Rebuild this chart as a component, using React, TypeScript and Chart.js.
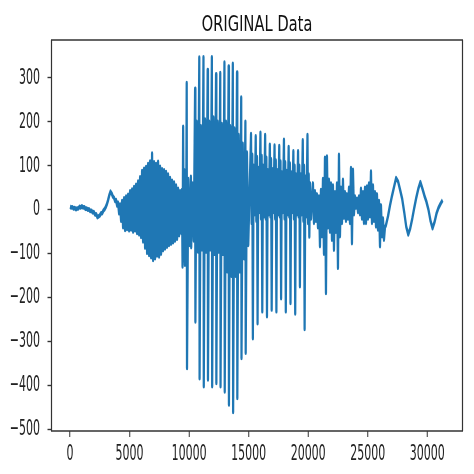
import React, { useEffect, useRef } from 'react';
import { Chart, registerables } from 'chart.js';

Chart.register(...registerables);

const titleText = 'ORIGINAL Data';
const xTickValues = [0, 5000, 10000, 15000, 20000, 25000, 30000];
const yTickValues = [-500, -400, -300, -200, -100, 0, 100, 200, 300];

// quiet lead-in (samples 0..3600, one reading every 100 samples)
const quietStart = 0;
const quietStep = 100;
const quietValues = [7, 5, 6, 3, 4, 1, 3, 3, 7, 5, 8, 5, 6, 2, 3, 0, 1, -3, -2, -6, -5, -11, -10, -17, -15, -13, -8, -8, -2, 1, 6, 13, 22, 33, 41, 37, 30];

// first noisy burst (samples 3700..9328)
const burstStart = 3700;
const burstStep = 84;
const burstValues = [
  27, 20, 22, 10, 16, -8, 12, -25, 20, -40,
  26, -46, 30, -44, 34, -47, 42, -45, 46, -50,
  52, -47, 57, -53, 64, -56, 74, -62, 88, -72,
  93, -86, 97, -98, 104, -103, 110, -108, 128, -114,
  108, -110, 104, -104, 109, -106, 98, -100, 92, -92,
  90, -88, 86, -84, 80, -80, 72, -77, 66, -74,
  62, -70, 55, -66, 48, -58, 42, -52,
];

// lead-in to the large spikes (samples 9400..9750)
const preStart = 9400;
const preStep = 50;
const preValues = [45, -129, 189, -115, 90, -125, 60, -70];

// large spikes, part A: one spike per 352 samples from sample 9800
const spikeAStart = 9800;
const spikeACycle = 352;
const spikeAOffsets = [0, 25, 130, 240];
const spikeATops = [288, 75, 275, 346, 347, 318, 347, 308, 311, 335, 326, 332, 312, 255, 200];
const spikeABottoms = [-360, -85, -254, -383, -401, -386, -401, -394, -401, -413, -443, -460, -428, -337, -325];
const spikeACoreHigh = [70, 60, 200, 190, 205, 200, 210, 200, 195, 200, 190, 185, 170, 150, 130];
const spikeACoreLow = [-80, -70, -95, -90, -95, -90, -100, -95, -100, -140, -150, -150, -140, -110, -80];

// large spikes, part B: one spike per 395 samples from sample 15200
const spikeBStart = 15200;
const spikeBCycle = 395;
const spikeBOffsets = [0, 50, 105, 155, 215, 300];
const spikeBTops = [172, 167, 175, 170, 148, 146, 145, 159, 143, 133, 133, 158, 170];
const spikeBCoreLowA = [-30, -25, -20, -20, -15, -20, -15, -20, -15, -20, -15, -25, -30];
const spikeBCoreHighA = [125, 120, 122, 118, 115, 112, 110, 108, 105, 100, 100, 100, 80];
const spikeBBottoms = [-292, -258, -231, -242, -227, -231, -201, -231, -212, -236, -174, -271, -61];
const spikeBCoreHighB = [100, 95, 100, 90, 92, 90, 85, 88, 85, 80, 80, 75, 60];
const spikeBCoreLowB = [-10, -5, -15, -10, -5, -10, -5, -10, -5, -10, -10, -15, -20];

// decaying noisy tail (samples 20400..26448)
const tailStart = 20400;
const tailStep = 84;
const tailValues = [
  60, -30, 42, -25, 35, -40, 30, -83, 45, -60,
  70, -100, 118, -189, 121, -40, 68, -50, 60, -68,
  55, -91, 40, -50, 60, -132, 125, -60, 50, -30,
  68, -18, 40, -25, 35, -20, 50, -30, 95, -76,
  91, -10, 30, 5, 25, -5, 30, -10, 48, -20,
  40, -30, 50, -30, 53, -20, 60, -15, 87, -30,
  55, -25, 40, -38, 35, -45, 20, -83, 10, -60,
  -20, -68, -40,
];

// slow oscillation at the end (samples 26530..31290)
const waveStart = 26530;
const waveStep = 170;
const waveValues = [-35, -15, 10, 32, 52, 72, 64, 45, 25, -5, -38, -56, -42, -20, 5, 28, 48, 63, 48, 32, 18, 0, -25, -42, -28, -8, 5, 14, 22];

type Pt = { x: number; y: number };

function addRun(out: Pt[], start: number, step: number, values: number[]) {
  values.forEach((v, i) => out.push({ x: start + i * step, y: v }));
}

function addCycles(out: Pt[], start: number, cycle: number, offsets: number[], columns: number[][]) {
  const n = columns[0].length;
  for (let c = 0; c < n; c++) {
    for (let j = 0; j < offsets.length; j++) {
      out.push({ x: start + c * cycle + offsets[j], y: columns[j][c] });
    }
  }
}

function buildPoints(): Pt[] {
  const pts: Pt[] = [];
  addRun(pts, quietStart, quietStep, quietValues);
  addRun(pts, burstStart, burstStep, burstValues);
  addRun(pts, preStart, preStep, preValues);
  addCycles(pts, spikeAStart, spikeACycle, spikeAOffsets, [spikeATops, spikeABottoms, spikeACoreHigh, spikeACoreLow]);
  addCycles(pts, spikeBStart, spikeBCycle, spikeBOffsets, [spikeBTops, spikeBCoreLowA, spikeBCoreHighA, spikeBBottoms, spikeBCoreHighB, spikeBCoreLowB]);
  addRun(pts, tailStart, tailStep, tailValues);
  addRun(pts, waveStart, waveStep, waveValues);
  return pts;
}

const FONT = '"DejaVu Sans", "Liberation Sans", sans-serif';

const framePlugin = {
  id: 'mplFrame',
  afterDraw(chart: any) {
    const { ctx, chartArea } = chart;
    const { left, right, top, bottom } = chartArea;
    ctx.save();
    ctx.strokeStyle = '#333333';
    ctx.lineWidth = 1.5;
    ctx.beginPath();
    ctx.moveTo(left - 1, top);
    ctx.lineTo(right + 1, top);
    ctx.moveTo(left - 1, bottom);
    ctx.lineTo(right + 1, bottom);
    ctx.stroke();
    ctx.lineWidth = 2.4;
    ctx.beginPath();
    ctx.moveTo(left, top);
    ctx.lineTo(left, bottom);
    ctx.moveTo(right, top);
    ctx.lineTo(right, bottom);
    ctx.stroke();
    ctx.restore();
  },
};

const titlePlugin = {
  id: 'mplTitle',
  afterDraw(chart: any) {
    const { ctx, chartArea } = chart;
    ctx.save();
    ctx.fillStyle = '#111111';
    ctx.font = `21px ${FONT}`;
    ctx.textAlign = 'center';
    ctx.textBaseline = 'alphabetic';
    ctx.translate((chartArea.left + chartArea.right) / 2, 31);
    ctx.scale(1.4, 1);
    ctx.fillText(titleText, 0, 0);
    ctx.restore();
  },
};

export default function App() {
  const ref = useRef<HTMLCanvasElement>(null);

  useEffect(() => {
    const canvas = ref.current;
    if (!canvas) return;
    const chart = new Chart(canvas, {
      type: 'line',
      data: {
        datasets: [
          {
            data: buildPoints(),
            borderColor: '#1f77b4',
            borderWidth: 4.5,
            pointRadius: 0,
            borderJoinStyle: 'round',
            borderCapStyle: 'butt',
            tension: 0,
            fill: false,
          },
        ],
      },
      options: {
        responsive: false,
        animation: false,
        devicePixelRatio: 1,
        parsing: false,
        events: [],
        layout: { padding: { left: 0, right: 23, top: 40, bottom: 0 } },
        plugins: {
          legend: { display: false },
          tooltip: { enabled: false },
          title: { display: false },
        },
        scales: {
          x: {
            type: 'linear',
            min: -1553,
            max: 32957,
            border: { display: false },
            grid: {
              drawOnChartArea: false,
              drawTicks: true,
              tickLength: 6,
              tickWidth: 2,
              tickColor: '#333333',
            },
            ticks: {
              font: { family: FONT, size: 22 },
              color: '#222222',
              padding: 4,
              autoSkip: false,
              maxRotation: 0,
              minRotation: 0,
              callback: (v: any) => String(v),
            },
            afterBuildTicks: (scale: any) => {
              scale.ticks = xTickValues.map((v) => ({ value: v }));
            },
            afterFit: (scale: any) => {
              scale.height = 43;
            },
          },
          y: {
            type: 'linear',
            min: -503,
            max: 386,
            border: { display: false },
            grid: {
              drawOnChartArea: false,
              drawTicks: true,
              tickLength: 8,
              tickWidth: 1.4,
              tickColor: '#333333',
            },
            ticks: {
              font: { family: FONT, size: 22 },
              color: '#222222',
              padding: 15,
              autoSkip: false,
              callback: (v: any) => (v < 0 ? '\u2212' + Math.abs(v) : String(v)),
            },
            afterBuildTicks: (scale: any) => {
              scale.ticks = yTickValues.map((v) => ({ value: v }));
            },
            afterFit: (scale: any) => {
              scale.width = 103;
            },
          },
        },
      },
      plugins: [framePlugin, titlePlugin],
    } as any);
    return () => chart.destroy();
  }, []);

  return (
    <div style={{ position: 'absolute', left: 0, top: 0, width: 474, height: 474, background: '#ffffff' }}>
      <canvas
        ref={ref}
        width={948}
        height={474}
        style={{ width: '474px', height: '474px', display: 'block' }}
      />
    </div>
  );
}
